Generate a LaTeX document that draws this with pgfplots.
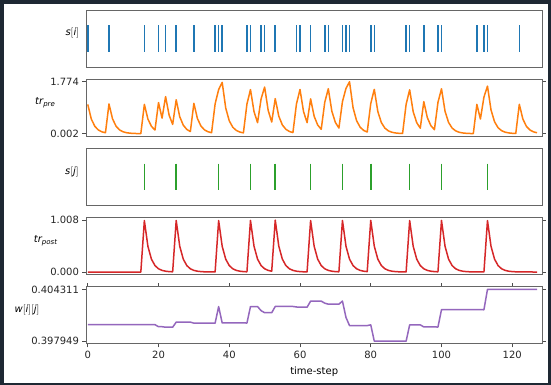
\documentclass[border=0pt]{standalone}
\usepackage{pgfplots}
\pgfplotsset{compat=1.18}
\usepackage{pgfplotstable}
\usepackage{amsmath}
\usepackage{fontspec}
\setmainfont{DejaVu Sans}
\definecolor{c0}{HTML}{1F77B4}
\definecolor{c1}{HTML}{FF7F0E}
\definecolor{c2}{HTML}{2CA02C}
\definecolor{c3}{HTML}{D62728}
\definecolor{c4}{HTML}{9467BD}
\definecolor{frame}{HTML}{1E2833}
\pgfplotstableread{
t pre post w
0 1.0000 0 0.399976
1 0.5000 0 0.399976
2 0.2500 0 0.399976
3 0.1250 0 0.399976
4 0.0625 0 0.399976
5 0.0313 0 0.399976
6 1.0156 0 0.399976
7 0.5078 0 0.399976
8 0.2539 0 0.399976
9 0.1270 0 0.399976
10 0.0635 0 0.399976
11 0.0317 0 0.399976
12 0.0159 0 0.399976
13 0.0079 0 0.399976
14 0.0040 0 0.399976
15 0.0020 0 0.399976
16 1.0010 1.0000 0.399980
17 0.5005 0.5000 0.399980
18 0.2502 0.2500 0.399980
19 0.1251 0.1250 0.399980
20 1.0626 0.0625 0.399730
21 0.5313 0.0313 0.399730
22 1.2656 0.0156 0.399667
23 0.6328 0.0078 0.399667
24 0.3164 0.0039 0.399667
25 1.1582 1.0020 0.400292
26 0.5791 0.5010 0.400292
27 0.2896 0.2505 0.400292
28 0.1448 0.1252 0.400292
29 0.0724 0.0626 0.400292
30 1.0362 0.0313 0.400167
31 0.5181 0.0157 0.400167
32 0.2590 0.0078 0.400167
33 0.1295 0.0039 0.400167
34 0.0648 0.0020 0.400167
35 0.0324 0.0010 0.400167
36 1.0162 0.0005 0.400165
37 1.5081 1.0002 0.402196
38 1.7540 0.5001 0.400196
39 0.8770 0.2501 0.400196
40 0.4385 0.1250 0.400196
41 0.2193 0.0625 0.400196
42 0.1096 0.0313 0.400196
43 0.0548 0.0156 0.400196
44 0.0274 0.0078 0.400196
45 1.0137 0.0039 0.400180
46 1.5069 1.0020 0.402200
47 0.7534 0.5010 0.402200
48 0.3767 0.2505 0.402200
49 1.1884 0.1252 0.401699
50 1.5942 0.0626 0.401448
51 0.7971 0.0313 0.401448
52 0.3985 0.0157 0.401448
53 1.1993 1.0078 0.402214
54 0.5996 0.5039 0.402214
55 0.2998 0.2520 0.402214
56 0.1499 0.1260 0.402214
57 0.0750 0.0630 0.402214
58 0.0375 0.0315 0.402214
59 1.0187 0.0157 0.402151
60 1.5094 0.0079 0.402120
61 0.7547 0.0039 0.402120
62 0.3773 0.0020 0.402120
63 1.1887 1.0010 0.402870
64 0.5943 0.5005 0.402870
65 0.2972 0.2502 0.402870
66 0.1486 0.1251 0.402870
67 1.0743 0.0626 0.402620
68 1.5371 0.0313 0.402495
69 0.7686 0.0156 0.402495
70 0.3843 0.0078 0.402495
71 0.1921 0.0039 0.402495
72 1.0961 1.0020 0.402871
73 1.5480 0.5010 0.400868
74 1.7740 0.2505 0.399866
75 0.8870 0.1252 0.399866
76 0.4435 0.0626 0.399866
77 0.2218 0.0313 0.399866
78 0.1109 0.0157 0.399866
79 0.0554 0.0078 0.399866
80 1.0277 1.0039 0.399961
81 1.5139 0.5020 0.397953
82 0.7569 0.2510 0.397953
83 0.3785 0.1255 0.397953
84 0.1892 0.0627 0.397953
85 0.0946 0.0314 0.397953
86 0.0473 0.0157 0.397953
87 0.0237 0.0078 0.397953
88 0.0118 0.0039 0.397953
89 0.0059 0.0020 0.397953
90 1.0030 0.0010 0.397949
91 1.5015 1.0005 0.399953
92 0.7507 0.5002 0.399953
93 0.3754 0.2501 0.399953
94 0.1877 0.1251 0.399953
95 1.0938 0.0625 0.399703
96 0.5469 0.0313 0.399703
97 0.2735 0.0156 0.399703
98 0.1367 0.0078 0.399703
99 1.0684 0.0039 0.399687
100 1.5342 1.0020 0.401816
101 0.7671 0.5010 0.401816
102 0.3835 0.2505 0.401816
103 0.1918 0.1252 0.401816
104 0.0959 0.0626 0.401816
105 0.0479 0.0313 0.401816
106 0.0240 0.0157 0.401816
107 0.0120 0.0078 0.401816
108 0.0060 0.0039 0.401816
109 0.0030 0.0020 0.401816
110 1.0015 0.0010 0.401812
111 0.5007 0.0005 0.401812
112 1.2504 0.0002 0.401811
113 1.6252 1.0001 0.404311
114 0.8126 0.5001 0.404311
115 0.4063 0.2500 0.404311
116 0.2031 0.1250 0.404311
117 0.1016 0.0625 0.404311
118 0.0508 0.0313 0.404311
119 0.0254 0.0156 0.404311
120 0.0127 0.0078 0.404311
121 0.0063 0.0039 0.404311
122 1.0032 0.0020 0.404304
123 0.5016 0.0010 0.404304
124 0.2508 0.0005 0.404304
125 0.1254 0.0002 0.404304
126 0.0627 0.0001 0.404304
127 0.0313 0.0001 0.404304
}\data
\pgfplotsset{
  panel/.style={
    scale only axis, width=456.3pt, height=57pt,
    anchor=south west,
    xmin=-0.5, xmax=128.5,
    axis line style={black!60, line width=0.9pt},
    tick style={black!70, line width=0.9pt},
    tick align=outside, major tick length=3.5pt,
    xtick=\empty, ytick=\empty,
    tick label style={font=\fontsize{10}{12}\selectfont, text=black!85},
  },
}
\begin{document}
\begin{tikzpicture}
\fill[frame] (0pt,0pt) rectangle (551pt,385pt);
\fill[white] (3.5pt,2.3pt) rectangle (548.3pt,381pt);
% s[i]
\begin{axis}[panel, at={(86pt,318pt)}, ymin=0, ymax=2]
\addplot[only marks, mark=|, mark size=13.3pt, mark options={line width=1.5pt, draw=c0}, c0] coordinates {
(0,1) (6,1) (16,1) (20,1) (22,1) (25,1) (30,1) (36,1) (37,1) (38,1) (45,1) (46,1) (49,1) (50,1) (53,1) (59,1) (60,1) (63,1) (67,1) (68,1) (72,1) (73,1) (74,1) (80,1) (81,1) (90,1) (91,1) (95,1) (99,1) (100,1) (110,1) (112,1) (113,1) (122,1)};
\end{axis}
% tr_pre
\begin{axis}[panel, at={(86pt,248.8pt)}, ymin=-0.0866, ymax=1.8626,
  ytick={0.0020,1.7740}, yticklabels={0.002,1.774}]
\addplot[c1, line width=1.5pt, line join=round] table[x=t, y=pre] {\data};
\end{axis}
% s[j]
\begin{axis}[panel, at={(86pt,179.6pt)}, ymin=0, ymax=2]
\addplot[only marks, mark=|, mark size=13.3pt, mark options={line width=1.5pt, draw=c2}, c2] coordinates {
(16,1) (25,1) (37,1) (46,1) (53,1) (63,1) (72,1) (80,1) (91,1) (100,1) (113,1)};
\end{axis}
% tr_post
\begin{axis}[panel, at={(86pt,110.4pt)}, ymin=-0.0504, ymax=1.0582,
  ytick={0,1.0078}, yticklabels={0.000,1.008}]
\addplot[c3, line width=1.5pt, line join=round] table[x=t, y=post] {\data};
\end{axis}
% w
\begin{axis}[panel, at={(86pt,41.2pt)}, ymin=0.397631, ymax=0.404629,
  ytick={0.397949,0.404311}, yticklabels={0.397949,0.404311},
  xtick={0,20,40,60,80,100,120}, xticklabels={0,20,40,60,80,100,120}]
\addplot[c4, line width=1.5pt, line join=round] table[x=t, y=w] {\data};
\end{axis}
% labels
\node[anchor=south, inner sep=0pt] at (72.3pt,346.5pt) {\fontsize{10}{12}\selectfont$\textit{s}[\textit{i}]$};
\node[anchor=south, inner sep=0pt] at (45.3pt,277.3pt) {\fontsize{10}{12}\selectfont$\textit{tr}_{\textit{pre}}$};
\node[anchor=south, inner sep=0pt] at (72.0pt,208.1pt) {\fontsize{10}{12}\selectfont$\textit{s}[\textit{j}]$};
\node[anchor=south, inner sep=0pt] at (45.7pt,138.9pt) {\fontsize{10}{12}\selectfont$\textit{tr}_{\textit{post}}$};
\node[anchor=south, inner sep=0pt] at (27.0pt,69.7pt) {\fontsize{10}{12}\selectfont$\textit{w}[\textit{i}][\textit{j}]$};
\node[anchor=north, inner sep=0pt] at (314.2pt,18.5pt) {\fontsize{10}{12}\selectfont time-step};
\end{tikzpicture}
\end{document}
